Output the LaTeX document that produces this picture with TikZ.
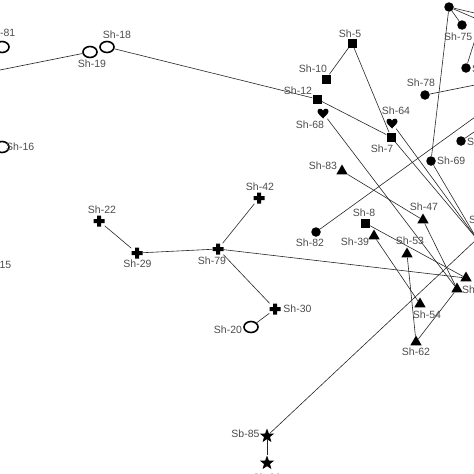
\documentclass[tikz,border=0pt]{standalone}
\usepackage{fontspec}
\setmainfont{Liberation Sans}
\usetikzlibrary{shapes.geometric}

\begin{document}
\begin{tikzpicture}[x=1pt,y=-1pt,
    lbl/.style={font=\fontsize{10.5}{12}\selectfont, text=black!70, inner sep=0pt},
    link/.style={line width=0.6pt, black!85},
    ring/.style={ellipse, draw, line width=1.6pt, fill=white, minimum width=14pt, minimum height=11pt, inner sep=0pt},
    sq/.style={rectangle, fill=black, minimum size=9pt, inner sep=0pt},
    dot/.style={circle, fill=black, minimum size=9.5pt, inner sep=0pt},
    tri/.style={regular polygon, regular polygon sides=3, fill=black, minimum size=13pt, inner sep=0pt},
    sstar/.style={star, star points=5, star point ratio=2.4, fill=black, minimum size=15pt, inner sep=0pt},
    plus/.style={rectangle, minimum size=11pt, inner sep=0pt,
      path picture={\begin{scope}[shift={(path picture bounding box.center)},x=1pt,y=1pt]
        \fill (-5.5,-2) rectangle (5.5,2) (-2,-5.5) rectangle (2,5.5);
      \end{scope}}},
    heart/.style={rectangle, minimum size=11pt, inner sep=0pt,
      path picture={\begin{scope}[shift={(path picture bounding box.center)},x=1pt,y=1pt]
        \fill (0,-5.5) .. controls (-2,-3) and (-5.5,-1) .. (-5.5,1.8)
          .. controls (-5.5,4.8) and (-1,5.2) .. (0,2.4)
          .. controls (1,5.2) and (5.5,4.8) .. (5.5,1.8)
          .. controls (5.5,-1) and (2,-3) .. (0,-5.5);
      \end{scope}}}]
  \useasboundingbox (0,0) rectangle (474,474);
  \clip (0,0) rectangle (474,474);
  %Free ends
  \coordinate (hub) at (477,239);
  \coordinate (west) at (-30,76);
  \coordinate (r1) at (500,19);
  \coordinate (r2) at (500,29);
  \coordinate (r3) at (480,24);
  \coordinate (r4) at (500,80);
  \coordinate (r5) at (500,114);
  \coordinate (r6) at (500,99);
  %Rings
  \node[ring] (sh81) at (2,47) {};
  \node[ring] (sh19) at (90,52) {};
  \node[ring] (sh18) at (107,47) {};
  \node[ring] (sh16) at (2,147) {};
  \node[ring] (sh20) at (251,327) {};
  %Crosses
  \node[plus] (sh22) at (99,221) {};
  \node[plus] (sh29) at (137,253) {};
  \node[plus] (sh79) at (218,249) {};
  \node[plus] (sh42) at (259,198) {};
  \node[plus] (sh30) at (275,309) {};
  %Squares
  \node[sq] (sh5) at (352,43) {};
  \node[sq] (sh10) at (326,79) {};
  \node[sq] (sh12) at (317,99) {};
  \node[sq] (sh7) at (391,137) {};
  \node[sq] (sh8) at (365,223) {};
  %Hearts
  \node[heart] (sh68) at (323,113) {};
  \node[heart] (sh64) at (392,123) {};
  %Dots
  \node[dot] (top) at (449,7) {};
  \node[dot] (sh75) at (462,25) {};
  \node[dot] (dotA) at (466,68) {};
  \node[dot] (sh78) at (425,95) {};
  \node[dot] (dotB) at (461,141) {};
  \node[dot] (sh69) at (431,161) {};
  \node[dot] (sh82) at (316,232) {};
  %Triangles
  \node[tri] (sh83) at (342,171) {};
  \node[tri] (sh47) at (423,220) {};
  \node[tri] (sh39) at (374,236) {};
  \node[tri] (sh53) at (407,254) {};
  \node[tri] (sh54) at (420,304) {};
  \node[tri] (sh62) at (416,342) {};
  \node[tri] (triA) at (466,278) {};
  \node[tri] (triB) at (457,289) {};
  %Stars
  \node[sstar] (sb85) at (267,436) {};
  \node[sstar] (sbLow) at (267,463) {};
  %Links
  \draw[link] (west) -- (sh19);
  \draw[link] (sh18) -- (sh12) -- (sh7);
  \draw[link] (sh10) -- (sh5) -- (sh7);
  \draw[link] (sh68) -- (triB);
  \draw[link] (sh64) -- (hub);
  \draw[link] (sh7) -- (hub);
  \draw[link] (sh69) -- (hub);
  \draw[link] (top) -- (sh69);
  \draw[link] (top) -- (sh75);
  \draw[link] (top) -- (r1);
  \draw[link] (top) -- (r2);
  \draw[link] (dotA) -- (r3);
  \draw[link] (sh78) -- (r4);
  \draw[link] (dotB) -- (r5);
  \draw[link] (sh82) -- (r6);
  \draw[link] (sh83) -- (sh47) -- (triB);
  \draw[link] (sh8) -- (triA);
  \draw[link] (sh79) -- (triA);
  \draw[link] (sh39) -- (sh54);
  \draw[link] (sh53) -- (sh62);
  \draw[link] (sh62) -- (triB);
  \draw[link] (sb85) -- (hub);
  \draw[link] (sb85) -- (sbLow);
  \draw[link] (sh22) -- (sh29) -- (sh79) -- (sh42);
  \draw[link] (sh79) -- (sh30) -- (sh20);
  %Labels
  \node[lbl, anchor=east] (l81) at (15.5,33) {Sh-81};
  \node[lbl] (l19) at (92,64) {Sh-19};
  \node[lbl] (l18) at (117,35) {Sh-18};
  \node[lbl, anchor=west] (l16) at (6,147) {Sh-16};
  \node[lbl, anchor=east] (l15) at (11.5,265) {Sh-15};
  \node[lbl] (l22) at (102,210) {Sh-22};
  \node[lbl] (l29) at (137.5,264) {Sh-29};
  \node[lbl] (l42) at (260,187) {Sh-42};
  \node[lbl] (l79) at (212,261) {Sh-79};
  \node[lbl] (l30) at (297.5,309) {Sh-30};
  \node[lbl] (l20) at (228,330) {Sh-20};
  \node[lbl] (l85) at (245.5,434) {Sb-85};
  \node[lbl] (lLow) at (267,478) {Sb-86};
  \node[lbl] (l83) at (323,166) {Sh-83};
  \node[lbl] (l82) at (310,243) {Sh-82};
  \node[lbl] (l8) at (364,213) {Sh-8};
  \node[lbl] (l39) at (355,242) {Sh-39};
  \node[lbl] (l47) at (424,207) {Sh-47};
  \node[lbl] (l53) at (410,241) {Sh-53};
  \node[lbl] (l54) at (427,315) {Sh-54};
  \node[lbl] (l62) at (416,352) {Sh-62};
  \node[lbl] (l5) at (350,34) {Sh-5};
  \node[lbl] (l10) at (313,69) {Sh-10};
  \node[lbl] (l12) at (298,91) {Sh-12};
  \node[lbl] (l68) at (310,125) {Sh-68};
  \node[lbl] (l7) at (382,149) {Sh-7};
  \node[lbl] (l64) at (396,111) {Sh-64};
  \node[lbl] (l78) at (421,83) {Sh-78};
  \node[lbl, anchor=west] (l75) at (444,37) {Sh-75};
  \node[lbl, anchor=west] (l69) at (437,161) {Sh-69};
  \node[lbl, anchor=west] (lB) at (467,142) {Sh-76};
  \node[lbl, anchor=west] (lA) at (472,69) {Sh-77};
  \node[lbl, anchor=west] (lHub) at (469,220) {Sh-1};
  \node[lbl, anchor=west] (lTriB) at (462,290) {Sh-4};
\end{tikzpicture}
\end{document}
